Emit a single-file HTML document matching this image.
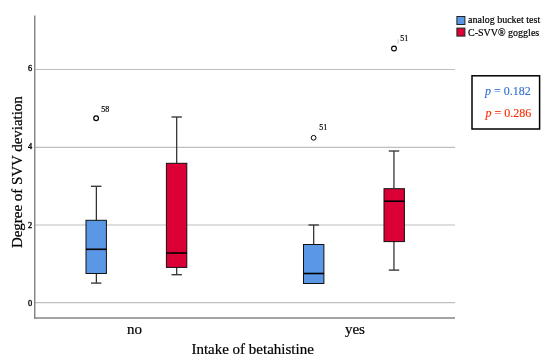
<!DOCTYPE html>
<html><head><meta charset="utf-8"><title>Boxplot</title>
<style>
html,body{margin:0;padding:0;background:#fff;}
svg{display:block;font-family:"Liberation Serif",serif;}
</style></head>
<body>
<svg width="550" height="362" viewBox="0 0 550 362">
<rect width="550" height="362" fill="#fff"/>
<!-- gridlines -->
<g stroke="#bebebe" stroke-width="1.2">
<line x1="35" y1="69.5" x2="455" y2="69.5"/>
<line x1="35" y1="147.35" x2="455" y2="147.35"/>
<line x1="35" y1="225" x2="455" y2="225"/>
<line x1="35" y1="302.7" x2="455" y2="302.7"/>
</g>
<!-- axes -->
<g stroke="#858585" stroke-width="1.5" fill="none">
<line x1="34.75" y1="15.4" x2="34.75" y2="318.8" stroke-width="1.45"/>
<line x1="34" y1="318.0" x2="455" y2="318.0" stroke-width="1.7"/>
</g>
<!-- y tick labels -->
<g font-size="8.4" fill="#000" stroke="#000" stroke-width="0.35" text-anchor="end">
<text x="32.3" y="70.9">6</text>
<text x="32.3" y="149.3">4</text>
<text x="32.3" y="227.8">2</text>
<text x="32.3" y="305.7">0</text>
</g>
<!-- titles -->
<text transform="translate(21.5,248.1) rotate(-90)" font-size="15" fill="#000" stroke="#000" stroke-width="0.2" textLength="151.9" lengthAdjust="spacing">Degree of SVV deviation</text>
<text x="191.4" y="354.3" font-size="15" fill="#000" stroke="#000" stroke-width="0.2">Intake of betahistine</text>
<text x="127" y="334.3" font-size="15" fill="#000" stroke="#000" stroke-width="0.2">no</text>
<text x="344.9" y="334.3" font-size="15" fill="#000" stroke="#000" stroke-width="0.2">yes</text>

<!-- whiskers -->
<g stroke="#262626" stroke-width="1.2" fill="none">
<line x1="96.35" y1="186.3" x2="96.35" y2="220"/>
<line x1="96.35" y1="273" x2="96.35" y2="283.1"/>
<line x1="176.7" y1="117" x2="176.7" y2="163"/>
<line x1="176.7" y1="267" x2="176.7" y2="274.7"/>
<line x1="313.7" y1="225" x2="313.7" y2="244"/>
<line x1="393.95" y1="151" x2="393.95" y2="188"/>
<line x1="393.95" y1="241" x2="393.95" y2="270.1"/>
</g>
<g stroke="#3c3c3c" stroke-width="1.4" fill="none">
<line x1="91.0" y1="186.3" x2="101.4" y2="186.3"/>
<line x1="91.0" y1="283.1" x2="101.4" y2="283.1"/>
<line x1="171.5" y1="117" x2="181.9" y2="117"/>
<line x1="171.5" y1="274.7" x2="181.9" y2="274.7"/>
<line x1="308.5" y1="225" x2="318.9" y2="225"/>
<line x1="388.8" y1="151" x2="399.2" y2="151"/>
<line x1="388.8" y1="270.1" x2="399.2" y2="270.1"/>
</g>
<!-- boxes -->
<g stroke="#111" stroke-width="1">
<rect x="86.0" y="220.3" width="20.4" height="53.2" fill="#5a98e6"/>
<rect x="166.4" y="163.3" width="20.4" height="104.1" fill="#db0036"/>
<rect x="303.5" y="244.5" width="20.4" height="39" fill="#5a98e6"/>
<rect x="384.0" y="188.7" width="20.4" height="52.9" fill="#db0036"/>
</g>
<!-- medians -->
<g stroke="#000" stroke-width="1.6">
<line x1="86.0" y1="249.3" x2="106.4" y2="249.3"/>
<line x1="166.4" y1="253.0" x2="186.8" y2="253.0"/>
<line x1="303.5" y1="273.5" x2="323.9" y2="273.5"/>
<line x1="384.0" y1="201.2" x2="404.4" y2="201.2"/>
</g>
<!-- outliers -->
<g stroke="#000" stroke-width="1" fill="#fff">
<circle cx="96.1" cy="118.2" r="2.35" stroke-width="1.2"/>
<circle cx="313.6" cy="137.8" r="2.4"/>
<circle cx="394" cy="48.5" r="2.4" stroke-width="1.1"/>
</g>
<line x1="398.1" y1="39.3" x2="398.1" y2="43.6" stroke="#c4c4c4" stroke-width="1"/>
<g font-size="8" fill="#000" stroke="#000" stroke-width="0.2">
<text x="101.3" y="111.8">58</text>
<text x="319.3" y="129.6">51</text>
<text x="400.2" y="41.2">51</text>
</g>
<!-- legend -->
<g stroke="#222" stroke-width="1">
<rect x="456.9" y="16.5" width="8" height="8" fill="#5a98e6"/>
<rect x="456.9" y="28.1" width="8" height="8" fill="#db0036"/>
</g>
<g font-size="10" fill="#000" stroke="#000" stroke-width="0.18">
<text x="468" y="23.4">analog bucket test</text>
<text x="468" y="35.5">C-SVV® goggles</text>
</g>
<!-- p box -->
<rect x="472.0" y="75.8" width="67.6" height="53.2" fill="#fff" stroke="#000" stroke-width="1.5"/>
<text x="485.1" y="94.9" font-size="12" fill="#2f6fd0" stroke="#2f6fd0" stroke-width="0.12"><tspan font-style="italic">p</tspan> = 0.182</text>
<text x="485.6" y="116.8" font-size="12" fill="#ff2600" stroke="#ff2600" stroke-width="0.12"><tspan font-style="italic">p</tspan> = 0.286</text>
</svg>
</body></html>
